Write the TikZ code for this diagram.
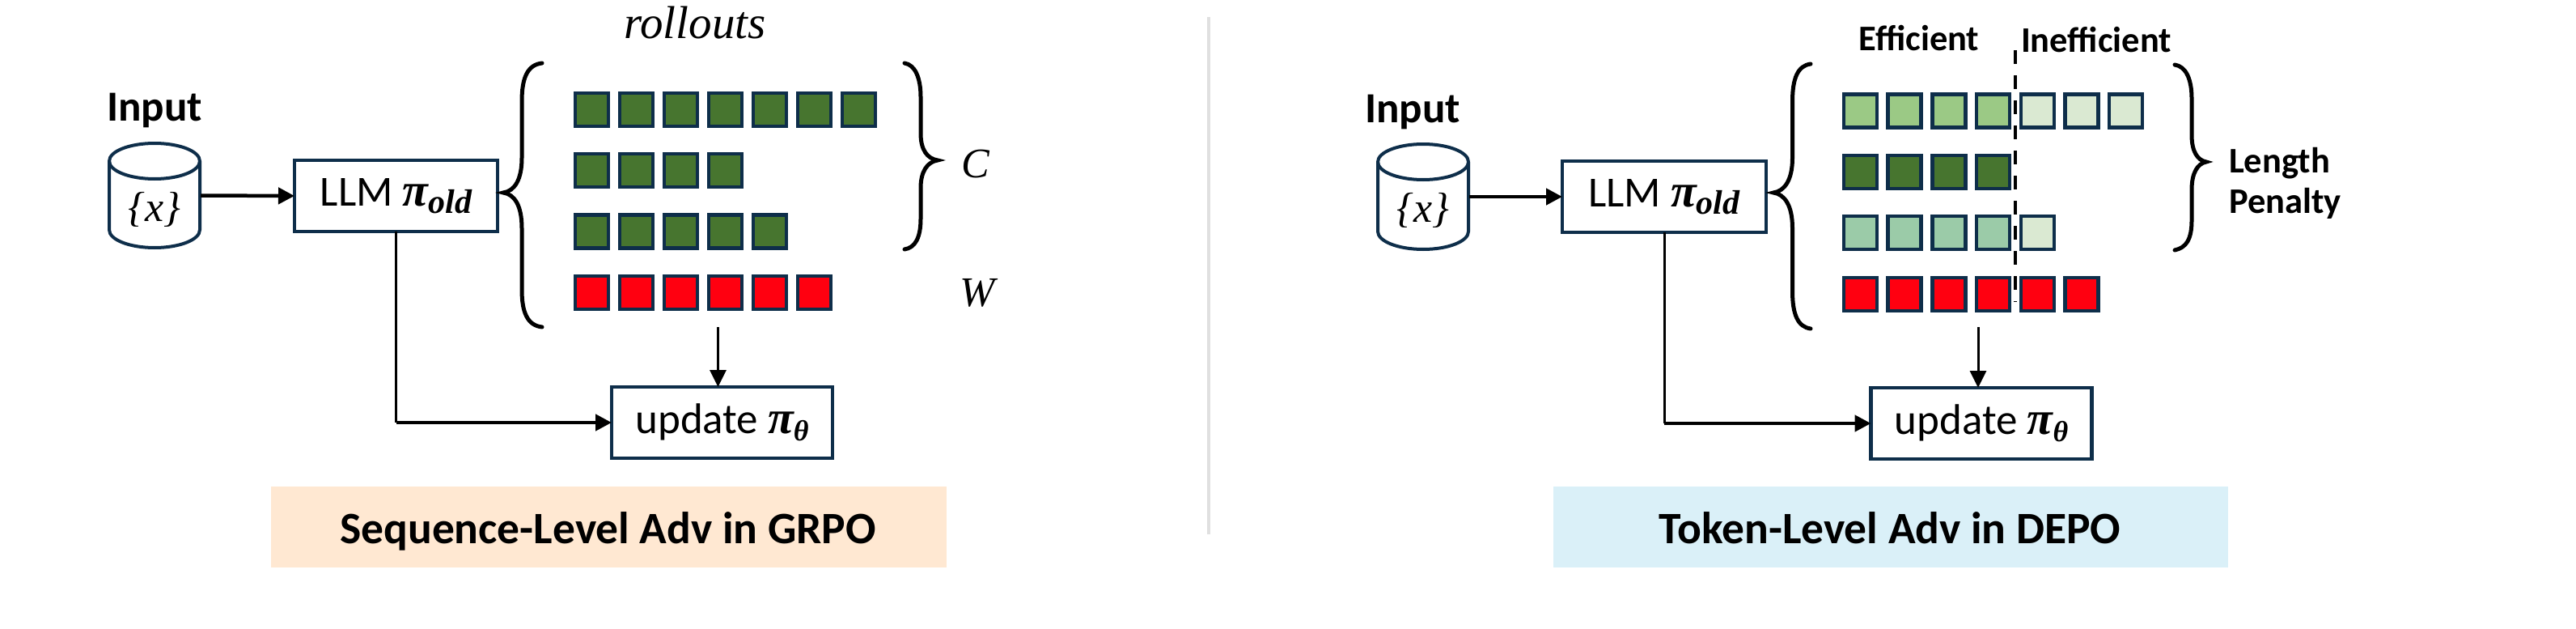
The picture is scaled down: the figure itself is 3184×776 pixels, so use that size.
\documentclass[tikz,border=0pt]{standalone}
\usepackage{fontspec}
\usetikzlibrary{arrows.meta}
\setmainfont{Carlito}
\newfontfamily\mathserif{Liberation Serif}
\definecolor{navy}{HTML}{0E2E4A}
\definecolor{gdark}{HTML}{47752F}
\definecolor{gmid}{HTML}{9BC985}
\definecolor{gteal}{HTML}{9BCBA8}
\definecolor{gpale}{HTML}{DAE9D2}
\definecolor{rtok}{HTML}{FF0010}
\definecolor{peach}{HTML}{FFE8D2}
\definecolor{sky}{HTML}{DAF0F8}
\definecolor{sepgray}{HTML}{E0E0E0}
\newcommand{\fsz}[1]{\fontsize{#1}{#1}\selectfont}
\newcommand{\polsym}[2]{{\mathserif\bfseries\itshape\fsz{58}π}\raisebox{-9pt}{\mathserif\bfseries\itshape\fsz{#2}#1}}
\tikzset{
  tok/.style={draw=navy,line width=4.5pt,minimum width=41pt,minimum height=41pt,inner sep=0pt,outer sep=0pt},
  boxnode/.style={draw=navy,line width=4.5pt,fill=white,inner sep=0pt,outer sep=0pt,font=\fsz{53}},
  dbframe/.style={inner sep=0pt,outer sep=0pt,minimum width=114pt,minimum height=133pt},
  dbline/.style={draw=navy,line width=4pt,line join=round},
  lab/.style={inner sep=0pt,outer sep=0pt,text=black},
  mi/.style={lab,font=\mathserif\itshape\fsz{52}},
  head/.style={lab,font=\bfseries\fsz{53}},
  small/.style={lab,font=\bfseries\fsz{44.5}},
  band/.style={inner sep=0pt,outer sep=0pt,minimum height=100pt},
  bandtext/.style={lab,anchor=base,font=\bfseries\fsz{55.5}},
  brace/.style={draw=black,line width=5pt,line cap=round,line join=miter},
  plain conn/.style={draw=black,line width=3pt},
  conn/.style={draw=black,line width=3pt,-{Triangle[length=21pt,width=20pt]}},
  thick conn/.style={draw=black,line width=4.5pt,-{Triangle[length=20pt,width=20pt]}},
}
% database drum: centre x, top y, bottom y (centre-line values)
\newcommand{\drum}[3]{%
  \draw[dbline] ({#1-56},{#2+22}) -- ({#1-56},{#3-22})
    arc[start angle=180,end angle=360,x radius=56pt,y radius=22pt] -- ({#1+56},{#2+22});
  \draw[dbline] (#1,{#2+22}) ellipse[x radius=56pt,y radius=22pt];
}
\begin{document}
\begin{tikzpicture}[x=1pt,y=-1pt]
\useasboundingbox[fill=white] (0,0) rectangle (3184,776);

% separator
\draw[sepgray,line width=4.5pt] (1494,21) -- (1494,660);

% ----- left panel -----
\node[head] (in1) at (191,136) {Input};
\node[dbframe] (db1) at (191,241.5) {};
\drum{191}{177}{306}
\node[mi] (x1) at (191,259) {\{x\}};
\node[boxnode,minimum width=251pt,minimum height=88pt] (llm1) at (489.5,242) {\raisebox{-3pt}{LLM\ \polsym{old}{42}}};
\node[boxnode,minimum width=273pt,minimum height=88pt] (upd1) at (892.5,522) {\raisebox{-3pt}{update\ \polsym{θ}{36}}};
\node[band,fill=peach,minimum width=835pt] (ban1) at (752.5,651) {};
\node[bandtext] (bt1) at (751.5,671) {Sequence-Level Adv in GRPO};
\node[mi,anchor=base,font=\mathserif\itshape\fsz{57}] (roll) at (859,48) {rollouts};
\node[mi] (cc) at (1206,203) {C};
\node[mi] (ww) at (1208,362) {W};

\foreach \i in {0,...,6} \node[tok,fill=gdark] (a\i) at ({731.5+55*\i},135.5) {};
\foreach \i in {0,...,3} \node[tok,fill=gdark] (b\i) at ({731.5+55*\i},210.5) {};
\foreach \i in {0,...,4} \node[tok,fill=gdark] (c\i) at ({731.5+55*\i},286) {};
\foreach \i in {0,...,5} \node[tok,fill=rtok] (d\i) at ({731.5+55*\i},361.5) {};

\draw[brace] (670,78) .. controls (652,80) and (645,96) .. (645,125) -- (645,195) .. controls (645,222) and (636,236) .. (622,238) .. controls (636,240) and (645,254) .. (645,282) -- (645,358) .. controls (645,386) and (652,402) .. (670,404);
\draw[brace] (1118,78) .. controls (1131,80) and (1138,96) .. (1138,120) -- (1138,165) .. controls (1138,185) and (1146,196) .. (1159,198) .. controls (1146,200) and (1138,212) .. (1138,232) -- (1138,270) .. controls (1138,294) and (1131,306) .. (1118,308);

\coordinate (r1) at (887.5,404);
\coordinate (k1) at (llm1.south |- upd1.west);
\draw[thick conn] (db1.east) -- (llm1.west);
\draw[plain conn] (llm1.south) -- (k1);
\draw[thick conn] (k1) -- (upd1.west);
\draw[conn] (r1) -- (r1 |- upd1.north);

% ----- right panel -----
\node[head] (in2) at (1746,138) {Input};
\node[dbframe] (db2) at (1759,243) {};
\drum{1759}{178}{308}
\node[mi] (x2) at (1759,260) {\{x\}};
\node[boxnode,minimum width=252pt,minimum height=88pt] (llm2) at (2057,243) {\raisebox{-3pt}{LLM\ \polsym{old}{42}}};
\node[boxnode,minimum width=273pt,minimum height=88pt] (upd2) at (2449,523) {\raisebox{-3pt}{update\ \polsym{θ}{36}}};
\node[band,fill=sky,minimum width=834pt] (ban2) at (2337,651) {};
\node[bandtext] (bt2) at (2336,671) {Token-Level Adv in DEPO};
\node[small,anchor=base] (eff) at (2372,63) {Efficient};
\node[small,anchor=base] (ineff) at (2591,65) {Inefficient};
\node[small,anchor=base west] (len) at (2755,213) {Length};
\node[small,anchor=base west] (pen) at (2755,263) {Penalty};

\foreach \i in {0,...,3} \node[tok,fill=gmid] (e\i) at ({2299.5+54.7*\i},137) {};
\foreach \i in {4,...,6} \node[tok,fill=gpale] (e\i) at ({2299.5+54.7*\i},137) {};
\foreach \i in {0,...,3} \node[tok,fill=gdark] (f\i) at ({2299.5+54.7*\i},212.5) {};
\foreach \i in {0,...,3} \node[tok,fill=gteal] (g\i) at ({2299.5+54.7*\i},287.5) {};
\node[tok,fill=gpale] (g4) at ({2299.5+54.7*4},287.5) {};
\foreach \i in {0,...,5} \node[tok,fill=rtok] (h\i) at ({2299.5+54.7*\i},363.5) {};

\draw[black,line width=4pt,dash pattern=on 17pt off 14pt] (2491,62) -- (2491,373);

\draw[brace] (2238,79) .. controls (2222,81) and (2215.5,97) .. (2215.5,125) -- (2215.5,195) .. controls (2215.5,222) and (2206,236) .. (2192,238) .. controls (2206,240) and (2215.5,254) .. (2215.5,282) -- (2215.5,360) .. controls (2215.5,388) and (2222,404) .. (2238,406);
\draw[brace] (2688,80) .. controls (2702,82) and (2709,98) .. (2709,122) -- (2709,167) .. controls (2709,187) and (2716,198) .. (2727,200) .. controls (2716,202) and (2709,214) .. (2709,234) -- (2709,272) .. controls (2709,296) and (2702,306) .. (2688,309);

\coordinate (r2) at (2445,404);
\coordinate (k2) at (llm2.south |- upd2.west);
\draw[thick conn] (db2.east) -- (llm2.west);
\draw[plain conn] (llm2.south) -- (k2);
\draw[thick conn] (k2) -- (upd2.west);
\draw[conn] (r2) -- (r2 |- upd2.north);
\end{tikzpicture}
\end{document}
